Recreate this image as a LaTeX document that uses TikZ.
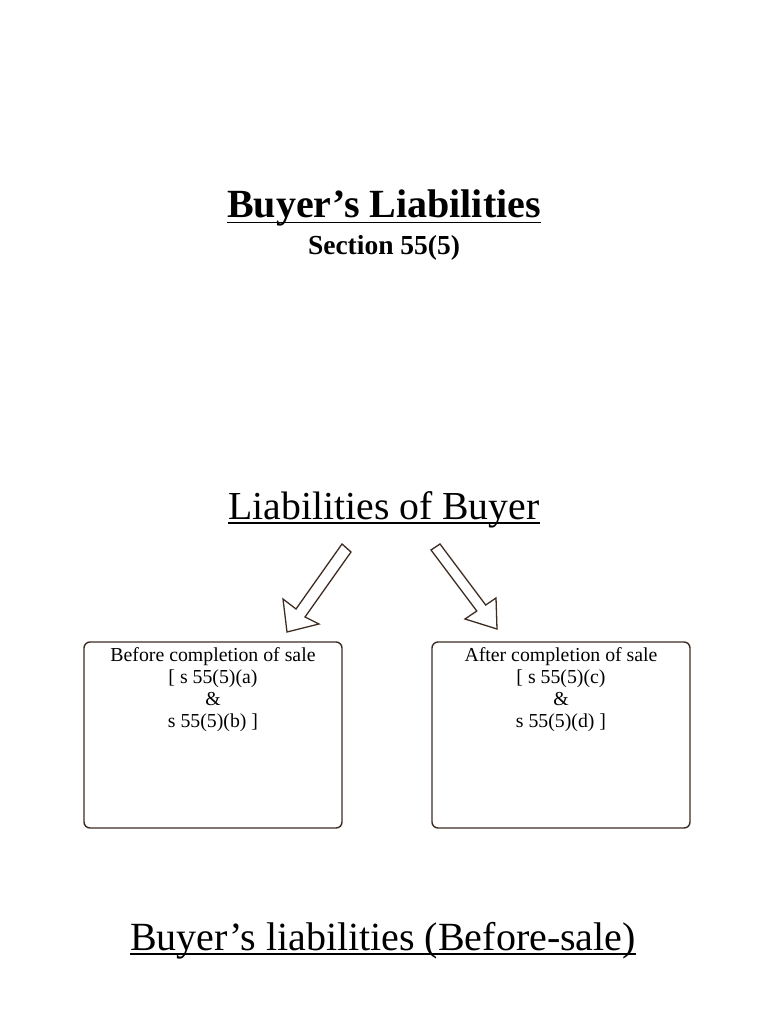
\documentclass[tikz,border=0pt]{standalone}
\usepackage{fontspec}
\setmainfont{Liberation Serif}
\definecolor{edge}{HTML}{3E2C22}
\begin{document}
\begin{tikzpicture}[x=1pt,y=-1pt,
  txt/.style={inner sep=0pt,anchor=base,text=black},
  boxstyle/.style={draw=edge,line width=1.4pt,rounded corners=6pt},
  blockarrow/.style={draw=edge,line width=1.3pt,fill=white,line join=miter},
  uline/.style={line width=1.8pt,black}]
\useasboundingbox[fill=white] (0,0) rectangle (768,1024);
% titles
\node[txt,font=\fontsize{40}{42}\selectfont\bfseries] (title) at (384,218) {Buyer’s Liabilities};
\draw[uline] ([yshift=-4.5pt]title.base west) -- ([yshift=-4.5pt]title.base east);
\node[txt,font=\fontsize{27.5}{29}\selectfont\bfseries] (sect) at (384,254) {Section 55(5)};
\node[txt,font=\fontsize{39.7}{41}\selectfont] (liab) at (384,519) {Liabilities of Buyer};
\draw[uline,line width=1.6pt] ([yshift=-3.8pt]liab.base west) -- ([yshift=-3.8pt]liab.base east);
% boxes
\draw[boxstyle] (84,642) rectangle (342,828);
\draw[boxstyle] (432,642) rectangle (690,828);
\node[txt,font=\fontsize{19.8}{22}\selectfont,align=center,anchor=north] (tL) at (213,647)
  {Before completion of sale\\{[} s 55(5)(a)\\\&\\s 55(5)(b) ]};
\node[txt,font=\fontsize{19.8}{22}\selectfont,align=center,anchor=north] (tR) at (561,647)
  {After completion of sale\\{[} s 55(5)(c)\\\&\\s 55(5)(d) ]};
% block arrows
\draw[blockarrow] (342,544) -- (351,552) -- (305,617) -- (319,624) -- (287,632) -- (283,599) -- (296,609) -- cycle;
\draw[blockarrow] (440,544) -- (485.7,605) -- (496,598) -- (497,629) -- (465,619) -- (476.8,611) -- (431,550) -- cycle;
% bottom heading
\node[txt,font=\fontsize{40}{42}\selectfont] (bottom) at (383,950) {Buyer’s liabilities (Before-sale)};
\draw[uline,line width=1.6pt] ([yshift=-3.8pt]bottom.base west) -- ([yshift=-3.8pt]bottom.base east);
\end{tikzpicture}
\end{document}
